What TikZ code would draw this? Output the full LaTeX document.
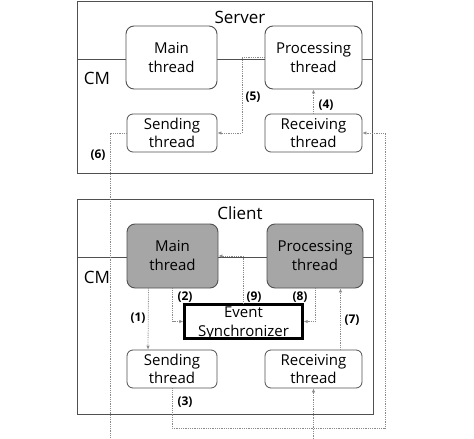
\documentclass[tikz,border=0pt]{standalone}
\usepackage{fontspec}
\setmainfont{Open Sans}
\usetikzlibrary{arrows.meta,calc,positioning}
\definecolor{frame}{HTML}{505050}
\definecolor{shade}{HTML}{A6A6A6}
\definecolor{link}{HTML}{8A8A8A}
\begin{document}
\begin{tikzpicture}[x=1pt,y=-1pt,
 big/.style={draw=frame,fill=white,rounded corners=8pt,line width=0.9pt,align=center,inner sep=0pt,font=\fontsize{15}{19}\selectfont},
 small/.style={draw=frame,fill=white,rounded corners=6pt,line width=0.8pt,align=center,inner sep=0pt,font=\fontsize{15}{18}\selectfont,minimum height=38pt},
 flow/.style={draw=link,densely dotted,line width=0.8pt},
 tip/.style={-{Latex[length=4pt,width=3.5pt]}},
 num/.style={font=\fontsize{12}{13}\selectfont\bfseries},
 title/.style={font=\fontsize{17}{18}\selectfont}]
 \useasboundingbox(0,0)rectangle(474,439);
 \draw[frame,line width=1pt](77,1)rectangle(372,173);
 \draw[frame,line width=1pt](77,199)rectangle(373,414);
 \draw[frame,line width=0.8pt](77,59)--(372,59);
 \draw[frame,line width=0.8pt](77,257)--(373,257);
 \node[title](srv)at(240,17){Server};\node[title](cli)at(240,213){Client};
 \node[title](cms)at(97,78){CM};\node[title](cmc)at(97,277){CM};
 % server side
 \node[big,minimum width=91pt,minimum height=63pt](smain)at(171.5,57.5){Main\\thread};
 \node[big,minimum width=97pt,minimum height=63pt](sproc)at(313.5,57.5){Processing\\thread};
 \node[small,minimum width=90pt](ssend)at(172,133){Sending\\thread};
 \node[small,minimum width=97pt](srecv)at(313.5,133){Receiving\\thread};
 % client side
 \node[big,fill=shade,minimum width=91pt,minimum height=64pt](cmain)at(172.5,256){Main\\thread};
 \node[big,fill=shade,minimum width=96pt,minimum height=64pt](cproc)at(315,256){Processing\\thread};
 \node[draw=black,line width=2.4pt,minimum width=118pt,minimum height=34pt,inner sep=0pt,align=center,font=\fontsize{15}{19}\selectfont](sync)at(243.5,321.5){};
 \node[font=\fontsize{15}{19}\selectfont,align=center,inner sep=0pt](synctext)at(243.5,323){Event\\Synchronizer};
 \node[small,minimum width=90pt](csend)at(172,369){Sending\\thread};
 \node[small,minimum width=97pt](crecv)at(313.5,369){Receiving\\thread};
 \coordinate(k3)at(385,428);\coordinate(k5)at(242,133);\coordinate(k6)at(110,439);\coordinate(kin)at(313.5,439);
 \draw[flow,tip](srecv.north)--(sproc.south);
 \draw[flow,tip](sproc.west)-|(k5)--(ssend.east);
 \draw[flow](ssend.west)-|(k6);
 \draw[flow,tip]([xshift=-24pt]cmain.south)--([xshift=-24pt]csend.north);
 \draw[flow,tip](cmain.south)|-(sync.west);
 \draw[flow,tip](sync.north)|-(cmain.east);
 \draw[flow,tip](cproc.south)|-(sync.east);
 \draw[flow,tip]([xshift=27pt]crecv.north)--([xshift=27pt]crecv.north|-cproc.south);
 \draw[flow,tip](csend.south)|-(k3)|-(srecv.east);
 \draw[flow,tip](kin)--(crecv.south);
 \foreach \n/\x/\y in {4/326/105,5/253/97,6/98/155,1/138/318,2/185/297,9/254/297,8/300/297,7/352/320,3/185/402}{\node[num](n\n)at(\x,\y){(\n)};}
\end{tikzpicture}
\end{document}
